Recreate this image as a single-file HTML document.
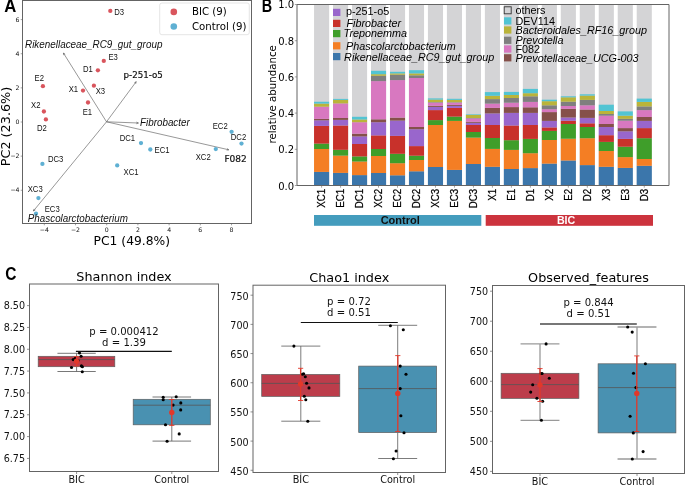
<!DOCTYPE html>
<html><head><meta charset="utf-8"><title>Figure</title>
<style>html,body{margin:0;padding:0;background:#fff}svg{display:block}text{white-space:pre}</style>
</head><body>
<svg width="685" height="485" viewBox="0 0 685 485">
<rect width="685" height="485" fill="#fff"/>
<rect x="22.50" y="0.50" width="229.00" height="223.00" fill="none" stroke="#646464" stroke-width="1.0" />
<text transform="translate(4.2,11.5) scale(1.077,1.2)" font-size="15.5" font-family="Liberation Sans, DejaVu Sans, sans-serif" font-weight="bold" fill="#000">A</text>
<line x1="44.30" y1="223.50" x2="44.30" y2="225.30" stroke="#646464" stroke-width="0.6" />
<text x="44.30" y="231.50" font-size="6.2" font-family="DejaVu Sans, Liberation Sans, sans-serif" text-anchor="middle" fill="#111" >−4</text>
<line x1="75.50" y1="223.50" x2="75.50" y2="225.30" stroke="#646464" stroke-width="0.6" />
<text x="75.50" y="231.50" font-size="6.2" font-family="DejaVu Sans, Liberation Sans, sans-serif" text-anchor="middle" fill="#111" >−2</text>
<line x1="106.70" y1="223.50" x2="106.70" y2="225.30" stroke="#646464" stroke-width="0.6" />
<text x="106.70" y="231.50" font-size="6.2" font-family="DejaVu Sans, Liberation Sans, sans-serif" text-anchor="middle" fill="#111" >0</text>
<line x1="137.90" y1="223.50" x2="137.90" y2="225.30" stroke="#646464" stroke-width="0.6" />
<text x="137.90" y="231.50" font-size="6.2" font-family="DejaVu Sans, Liberation Sans, sans-serif" text-anchor="middle" fill="#111" >2</text>
<line x1="169.10" y1="223.50" x2="169.10" y2="225.30" stroke="#646464" stroke-width="0.6" />
<text x="169.10" y="231.50" font-size="6.2" font-family="DejaVu Sans, Liberation Sans, sans-serif" text-anchor="middle" fill="#111" >4</text>
<line x1="200.30" y1="223.50" x2="200.30" y2="225.30" stroke="#646464" stroke-width="0.6" />
<text x="200.30" y="231.50" font-size="6.2" font-family="DejaVu Sans, Liberation Sans, sans-serif" text-anchor="middle" fill="#111" >6</text>
<line x1="231.50" y1="223.50" x2="231.50" y2="225.30" stroke="#646464" stroke-width="0.6" />
<text x="231.50" y="231.50" font-size="6.2" font-family="DejaVu Sans, Liberation Sans, sans-serif" text-anchor="middle" fill="#111" >8</text>
<line x1="20.70" y1="19.58" x2="22.50" y2="19.58" stroke="#646464" stroke-width="0.6" />
<text x="19.50" y="21.78" font-size="6.2" font-family="DejaVu Sans, Liberation Sans, sans-serif" text-anchor="end" fill="#111" >6</text>
<line x1="20.70" y1="53.72" x2="22.50" y2="53.72" stroke="#646464" stroke-width="0.6" />
<text x="19.50" y="55.92" font-size="6.2" font-family="DejaVu Sans, Liberation Sans, sans-serif" text-anchor="end" fill="#111" >4</text>
<line x1="20.70" y1="87.86" x2="22.50" y2="87.86" stroke="#646464" stroke-width="0.6" />
<text x="19.50" y="90.06" font-size="6.2" font-family="DejaVu Sans, Liberation Sans, sans-serif" text-anchor="end" fill="#111" >2</text>
<line x1="20.70" y1="122.00" x2="22.50" y2="122.00" stroke="#646464" stroke-width="0.6" />
<text x="19.50" y="124.20" font-size="6.2" font-family="DejaVu Sans, Liberation Sans, sans-serif" text-anchor="end" fill="#111" >0</text>
<line x1="20.70" y1="156.14" x2="22.50" y2="156.14" stroke="#646464" stroke-width="0.6" />
<text x="19.50" y="158.34" font-size="6.2" font-family="DejaVu Sans, Liberation Sans, sans-serif" text-anchor="end" fill="#111" >−2</text>
<line x1="20.70" y1="190.28" x2="22.50" y2="190.28" stroke="#646464" stroke-width="0.6" />
<text x="19.50" y="192.48" font-size="6.2" font-family="DejaVu Sans, Liberation Sans, sans-serif" text-anchor="end" fill="#111" >−4</text>
<text x="131.80" y="244.50" font-size="12.3" font-family="DejaVu Sans, Liberation Sans, sans-serif" text-anchor="middle" fill="#000" >PC1 (49.8%)</text>
<text transform="translate(10.0,126.5) rotate(-90)" font-size="12.8" font-family="DejaVu Sans, Liberation Sans, sans-serif" text-anchor="middle" fill="#000">PC2 (23.6%)</text>
<line x1="106.50" y1="121.80" x2="63.40" y2="53.00" stroke="#606060" stroke-width="0.65" />
<path d="M65.20,54.26 L63.40,53.00 L63.75,55.17" fill="none" stroke="#606060" stroke-width="0.65"/>
<line x1="106.50" y1="121.80" x2="136.20" y2="81.70" stroke="#606060" stroke-width="0.65" />
<path d="M135.68,83.84 L136.20,81.70 L134.31,82.82" fill="none" stroke="#606060" stroke-width="0.65"/>
<line x1="106.50" y1="121.80" x2="138.40" y2="123.00" stroke="#606060" stroke-width="0.65" />
<path d="M136.34,123.78 L138.40,123.00 L136.41,122.07" fill="none" stroke="#606060" stroke-width="0.65"/>
<line x1="106.50" y1="121.80" x2="228.80" y2="149.80" stroke="#606060" stroke-width="0.65" />
<path d="M226.63,150.18 L228.80,149.80 L227.02,148.51" fill="none" stroke="#606060" stroke-width="0.65"/>
<line x1="106.50" y1="121.80" x2="33.40" y2="211.00" stroke="#606060" stroke-width="0.65" />
<path d="M34.02,208.89 L33.40,211.00 L35.35,209.98" fill="none" stroke="#606060" stroke-width="0.65"/>
<circle cx="110.30" cy="10.90" r="2.15" fill="#d9555d"/>
<circle cx="103.80" cy="60.90" r="2.15" fill="#d9555d"/>
<circle cx="97.90" cy="70.30" r="2.15" fill="#d9555d"/>
<circle cx="93.90" cy="85.70" r="2.15" fill="#d9555d"/>
<circle cx="83.00" cy="90.60" r="2.15" fill="#d9555d"/>
<circle cx="88.00" cy="102.50" r="2.15" fill="#d9555d"/>
<circle cx="42.90" cy="86.20" r="2.15" fill="#d9555d"/>
<circle cx="43.90" cy="111.50" r="2.15" fill="#d9555d"/>
<circle cx="45.90" cy="119.40" r="2.15" fill="#d9555d"/>
<circle cx="42.40" cy="163.90" r="2.15" fill="#5fb0d3"/>
<circle cx="38.40" cy="198.10" r="2.15" fill="#5fb0d3"/>
<circle cx="36.00" cy="213.70" r="2.15" fill="#5fb0d3"/>
<circle cx="117.20" cy="165.40" r="2.15" fill="#5fb0d3"/>
<circle cx="141.00" cy="143.10" r="2.15" fill="#5fb0d3"/>
<circle cx="150.30" cy="149.50" r="2.15" fill="#5fb0d3"/>
<circle cx="215.80" cy="149.10" r="2.15" fill="#5fb0d3"/>
<circle cx="231.60" cy="131.80" r="2.15" fill="#5fb0d3"/>
<circle cx="241.50" cy="143.60" r="2.15" fill="#5fb0d3"/>
<text transform="translate(114.30,15.40) scale(1,1.18)" font-size="7.7" font-family="Liberation Sans, DejaVu Sans, sans-serif" fill="#111">D3</text>
<text transform="translate(108.40,59.80) scale(1,1.18)" font-size="7.7" font-family="Liberation Sans, DejaVu Sans, sans-serif" fill="#111">E3</text>
<text transform="translate(82.90,72.20) scale(1,1.18)" font-size="7.7" font-family="Liberation Sans, DejaVu Sans, sans-serif" fill="#111">D1</text>
<text transform="translate(95.70,94.10) scale(1,1.18)" font-size="7.7" font-family="Liberation Sans, DejaVu Sans, sans-serif" fill="#111">X3</text>
<text transform="translate(68.70,91.80) scale(1,1.18)" font-size="7.7" font-family="Liberation Sans, DejaVu Sans, sans-serif" fill="#111">X1</text>
<text transform="translate(82.70,114.70) scale(1,1.18)" font-size="7.7" font-family="Liberation Sans, DejaVu Sans, sans-serif" fill="#111">E1</text>
<text transform="translate(34.60,81.00) scale(1,1.18)" font-size="7.7" font-family="Liberation Sans, DejaVu Sans, sans-serif" fill="#111">E2</text>
<text transform="translate(31.00,108.00) scale(1,1.18)" font-size="7.7" font-family="Liberation Sans, DejaVu Sans, sans-serif" fill="#111">X2</text>
<text transform="translate(36.90,130.90) scale(1,1.18)" font-size="7.7" font-family="Liberation Sans, DejaVu Sans, sans-serif" fill="#111">D2</text>
<text transform="translate(47.90,162.30) scale(1,1.18)" font-size="7.7" font-family="Liberation Sans, DejaVu Sans, sans-serif" fill="#111">DC3</text>
<text transform="translate(27.70,192.20) scale(1,1.18)" font-size="7.7" font-family="Liberation Sans, DejaVu Sans, sans-serif" fill="#111">XC3</text>
<text transform="translate(44.70,212.40) scale(1,1.18)" font-size="7.7" font-family="Liberation Sans, DejaVu Sans, sans-serif" fill="#111">EC3</text>
<text transform="translate(123.60,174.70) scale(1,1.18)" font-size="7.7" font-family="Liberation Sans, DejaVu Sans, sans-serif" fill="#111">XC1</text>
<text transform="translate(119.70,141.10) scale(1,1.18)" font-size="7.7" font-family="Liberation Sans, DejaVu Sans, sans-serif" fill="#111">DC1</text>
<text transform="translate(154.50,153.00) scale(1,1.18)" font-size="7.7" font-family="Liberation Sans, DejaVu Sans, sans-serif" fill="#111">EC1</text>
<text transform="translate(195.70,160.00) scale(1,1.18)" font-size="7.7" font-family="Liberation Sans, DejaVu Sans, sans-serif" fill="#111">XC2</text>
<text transform="translate(212.70,128.80) scale(1,1.18)" font-size="7.7" font-family="Liberation Sans, DejaVu Sans, sans-serif" fill="#111">EC2</text>
<text transform="translate(230.80,140.30) scale(1,1.18)" font-size="7.7" font-family="Liberation Sans, DejaVu Sans, sans-serif" fill="#111">DC2</text>
<text transform="translate(25.0,47.6) scale(1,1.1)" font-size="9.9" font-family="Liberation Sans, DejaVu Sans, sans-serif" font-style="italic" fill="#111">Rikenellaceae_RC9_gut_group</text>
<text x="123.50" y="78.00" font-size="8.7" font-family="DejaVu Sans, Liberation Sans, sans-serif" text-anchor="start" fill="#111" stroke="#111" stroke-width="0.2">p-251-o5</text>
<text transform="translate(140.0,125.7) scale(1,1.1)" font-size="9.85" font-family="Liberation Sans, DejaVu Sans, sans-serif" font-style="italic" fill="#111">Fibrobacter</text>
<text x="224.40" y="161.70" font-size="9.05" font-family="DejaVu Sans, Liberation Sans, sans-serif" text-anchor="start" fill="#111" stroke="#111" stroke-width="0.2">F082</text>
<text transform="translate(27.8,222.0) scale(1,1.1)" font-size="9.85" font-family="Liberation Sans, DejaVu Sans, sans-serif" font-style="italic" fill="#111">Phascolarctobacterium</text>
<rect x="159.70" y="3.00" width="89.60" height="31.70" fill="#fff" stroke="#dadada" stroke-width="0.7" rx="2.2"/>
<circle cx="173.80" cy="11.90" r="3.3" fill="#d9555d"/>
<circle cx="173.80" cy="26.50" r="3.3" fill="#5fb0d3"/>
<text x="191.90" y="15.20" font-size="10.2" font-family="DejaVu Sans, Liberation Sans, sans-serif" text-anchor="start" fill="#000" >BIC (9)</text>
<text x="191.90" y="29.80" font-size="10.2" font-family="DejaVu Sans, Liberation Sans, sans-serif" text-anchor="start" fill="#000" >Control (9)</text>
<text transform="translate(261.7,12.2) scale(0.93,1.14)" font-size="15.5" font-family="Liberation Sans, DejaVu Sans, sans-serif" font-weight="bold" fill="#000">B</text>
<rect x="314.05" y="4.50" width="15.10" height="181.00" fill="#d4d4d6" stroke="none" stroke-width="0.6" />
<rect x="314.05" y="171.90" width="15.10" height="13.60" fill="#3b76ab" stroke="none" stroke-width="0.6" />
<rect x="314.05" y="149.00" width="15.10" height="22.90" fill="#f47e24" stroke="none" stroke-width="0.6" />
<rect x="314.05" y="143.60" width="15.10" height="5.40" fill="#3f9e2a" stroke="none" stroke-width="0.6" />
<rect x="314.05" y="125.90" width="15.10" height="17.70" fill="#c8312b" stroke="none" stroke-width="0.6" />
<rect x="314.05" y="120.30" width="15.10" height="5.60" fill="#9966cc" stroke="none" stroke-width="0.6" />
<rect x="314.05" y="118.90" width="15.10" height="1.40" fill="#85504a" stroke="none" stroke-width="0.6" />
<rect x="314.05" y="106.70" width="15.10" height="12.20" fill="#d878c0" stroke="none" stroke-width="0.6" />
<rect x="314.05" y="103.60" width="15.10" height="3.10" fill="#bab43a" stroke="none" stroke-width="0.6" />
<rect x="314.05" y="101.75" width="15.10" height="1.85" fill="#52c4d3" stroke="none" stroke-width="0.6" />
<text transform="translate(324.90,188.90) rotate(-90) scale(0.88,1)" font-size="11" font-family="Liberation Sans, DejaVu Sans, sans-serif" text-anchor="end" fill="#000" stroke="#000" stroke-width="0.25">XC1</text>
<line x1="321.60" y1="185.50" x2="321.60" y2="187.70" stroke="#646464" stroke-width="0.6" />
<rect x="333.03" y="4.50" width="15.10" height="181.00" fill="#d4d4d6" stroke="none" stroke-width="0.6" />
<rect x="333.03" y="172.90" width="15.10" height="12.60" fill="#3b76ab" stroke="none" stroke-width="0.6" />
<rect x="333.03" y="155.60" width="15.10" height="17.30" fill="#f47e24" stroke="none" stroke-width="0.6" />
<rect x="333.03" y="149.80" width="15.10" height="5.80" fill="#3f9e2a" stroke="none" stroke-width="0.6" />
<rect x="333.03" y="125.50" width="15.10" height="24.30" fill="#c8312b" stroke="none" stroke-width="0.6" />
<rect x="333.03" y="119.90" width="15.10" height="5.60" fill="#9966cc" stroke="none" stroke-width="0.6" />
<rect x="333.03" y="118.00" width="15.10" height="1.90" fill="#85504a" stroke="none" stroke-width="0.6" />
<rect x="333.03" y="103.40" width="15.10" height="14.60" fill="#d878c0" stroke="none" stroke-width="0.6" />
<rect x="333.03" y="99.90" width="15.10" height="3.50" fill="#bab43a" stroke="none" stroke-width="0.6" />
<rect x="333.03" y="98.90" width="15.10" height="1.00" fill="#52c4d3" stroke="none" stroke-width="0.6" />
<text transform="translate(343.88,188.90) rotate(-90) scale(0.88,1)" font-size="11" font-family="Liberation Sans, DejaVu Sans, sans-serif" text-anchor="end" fill="#000" stroke="#000" stroke-width="0.25">EC1</text>
<line x1="340.58" y1="185.50" x2="340.58" y2="187.70" stroke="#646464" stroke-width="0.6" />
<rect x="352.01" y="4.50" width="15.10" height="181.00" fill="#d4d4d6" stroke="none" stroke-width="0.6" />
<rect x="352.01" y="175.10" width="15.10" height="10.40" fill="#3b76ab" stroke="none" stroke-width="0.6" />
<rect x="352.01" y="161.50" width="15.10" height="13.60" fill="#f47e24" stroke="none" stroke-width="0.6" />
<rect x="352.01" y="156.40" width="15.10" height="5.10" fill="#3f9e2a" stroke="none" stroke-width="0.6" />
<rect x="352.01" y="144.00" width="15.10" height="12.40" fill="#c8312b" stroke="none" stroke-width="0.6" />
<rect x="352.01" y="136.40" width="15.10" height="7.60" fill="#9966cc" stroke="none" stroke-width="0.6" />
<rect x="352.01" y="133.70" width="15.10" height="2.70" fill="#85504a" stroke="none" stroke-width="0.6" />
<rect x="352.01" y="122.20" width="15.10" height="11.50" fill="#d878c0" stroke="none" stroke-width="0.6" />
<rect x="352.01" y="119.50" width="15.10" height="2.70" fill="#bab43a" stroke="none" stroke-width="0.6" />
<rect x="352.01" y="116.80" width="15.10" height="2.70" fill="#52c4d3" stroke="none" stroke-width="0.6" />
<text transform="translate(362.86,188.90) rotate(-90) scale(0.88,1)" font-size="11" font-family="Liberation Sans, DejaVu Sans, sans-serif" text-anchor="end" fill="#000" stroke="#000" stroke-width="0.25">DC1</text>
<line x1="359.56" y1="185.50" x2="359.56" y2="187.70" stroke="#646464" stroke-width="0.6" />
<rect x="370.99" y="4.50" width="15.10" height="181.00" fill="#d4d4d6" stroke="none" stroke-width="0.6" />
<rect x="370.99" y="173.00" width="15.10" height="12.50" fill="#3b76ab" stroke="none" stroke-width="0.6" />
<rect x="370.99" y="156.00" width="15.10" height="17.00" fill="#f47e24" stroke="none" stroke-width="0.6" />
<rect x="370.99" y="149.00" width="15.10" height="7.00" fill="#3f9e2a" stroke="none" stroke-width="0.6" />
<rect x="370.99" y="135.40" width="15.10" height="13.60" fill="#c8312b" stroke="none" stroke-width="0.6" />
<rect x="370.99" y="122.20" width="15.10" height="13.20" fill="#9966cc" stroke="none" stroke-width="0.6" />
<rect x="370.99" y="119.30" width="15.10" height="2.90" fill="#85504a" stroke="none" stroke-width="0.6" />
<rect x="370.99" y="81.10" width="15.10" height="38.20" fill="#d878c0" stroke="none" stroke-width="0.6" />
<rect x="370.99" y="75.80" width="15.10" height="5.30" fill="#7f7f7f" stroke="none" stroke-width="0.6" />
<rect x="370.99" y="74.20" width="15.10" height="1.60" fill="#bab43a" stroke="none" stroke-width="0.6" />
<rect x="370.99" y="70.80" width="15.10" height="3.40" fill="#52c4d3" stroke="none" stroke-width="0.6" />
<text transform="translate(381.84,188.90) rotate(-90) scale(0.88,1)" font-size="11" font-family="Liberation Sans, DejaVu Sans, sans-serif" text-anchor="end" fill="#000" stroke="#000" stroke-width="0.25">XC2</text>
<line x1="378.54" y1="185.50" x2="378.54" y2="187.70" stroke="#646464" stroke-width="0.6" />
<rect x="389.97" y="4.50" width="15.10" height="181.00" fill="#d4d4d6" stroke="none" stroke-width="0.6" />
<rect x="389.97" y="175.30" width="15.10" height="10.20" fill="#3b76ab" stroke="none" stroke-width="0.6" />
<rect x="389.97" y="163.20" width="15.10" height="12.10" fill="#f47e24" stroke="none" stroke-width="0.6" />
<rect x="389.97" y="153.80" width="15.10" height="9.40" fill="#3f9e2a" stroke="none" stroke-width="0.6" />
<rect x="389.97" y="135.90" width="15.10" height="17.90" fill="#c8312b" stroke="none" stroke-width="0.6" />
<rect x="389.97" y="120.60" width="15.10" height="15.30" fill="#9966cc" stroke="none" stroke-width="0.6" />
<rect x="389.97" y="117.60" width="15.10" height="3.00" fill="#85504a" stroke="none" stroke-width="0.6" />
<rect x="389.97" y="80.10" width="15.10" height="37.50" fill="#d878c0" stroke="none" stroke-width="0.6" />
<rect x="389.97" y="74.70" width="15.10" height="5.40" fill="#7f7f7f" stroke="none" stroke-width="0.6" />
<rect x="389.97" y="73.40" width="15.10" height="1.30" fill="#bab43a" stroke="none" stroke-width="0.6" />
<rect x="389.97" y="71.80" width="15.10" height="1.60" fill="#52c4d3" stroke="none" stroke-width="0.6" />
<text transform="translate(400.82,188.90) rotate(-90) scale(0.88,1)" font-size="11" font-family="Liberation Sans, DejaVu Sans, sans-serif" text-anchor="end" fill="#000" stroke="#000" stroke-width="0.25">EC2</text>
<line x1="397.52" y1="185.50" x2="397.52" y2="187.70" stroke="#646464" stroke-width="0.6" />
<rect x="408.95" y="4.50" width="15.10" height="181.00" fill="#d4d4d6" stroke="none" stroke-width="0.6" />
<rect x="408.95" y="171.30" width="15.10" height="14.20" fill="#3b76ab" stroke="none" stroke-width="0.6" />
<rect x="408.95" y="160.00" width="15.10" height="11.30" fill="#f47e24" stroke="none" stroke-width="0.6" />
<rect x="408.95" y="155.70" width="15.10" height="4.30" fill="#3f9e2a" stroke="none" stroke-width="0.6" />
<rect x="408.95" y="146.10" width="15.10" height="9.60" fill="#c8312b" stroke="none" stroke-width="0.6" />
<rect x="408.95" y="129.20" width="15.10" height="16.90" fill="#9966cc" stroke="none" stroke-width="0.6" />
<rect x="408.95" y="127.00" width="15.10" height="2.20" fill="#85504a" stroke="none" stroke-width="0.6" />
<rect x="408.95" y="78.00" width="15.10" height="49.00" fill="#d878c0" stroke="none" stroke-width="0.6" />
<rect x="408.95" y="75.30" width="15.10" height="2.70" fill="#7f7f7f" stroke="none" stroke-width="0.6" />
<rect x="408.95" y="73.40" width="15.10" height="1.90" fill="#bab43a" stroke="none" stroke-width="0.6" />
<rect x="408.95" y="70.20" width="15.10" height="3.20" fill="#52c4d3" stroke="none" stroke-width="0.6" />
<text transform="translate(419.80,188.90) rotate(-90) scale(0.88,1)" font-size="11" font-family="Liberation Sans, DejaVu Sans, sans-serif" text-anchor="end" fill="#000" stroke="#000" stroke-width="0.25">DC2</text>
<line x1="416.50" y1="185.50" x2="416.50" y2="187.70" stroke="#646464" stroke-width="0.6" />
<rect x="427.93" y="4.50" width="15.10" height="181.00" fill="#d4d4d6" stroke="none" stroke-width="0.6" />
<rect x="427.93" y="167.00" width="15.10" height="18.50" fill="#3b76ab" stroke="none" stroke-width="0.6" />
<rect x="427.93" y="125.00" width="15.10" height="42.00" fill="#f47e24" stroke="none" stroke-width="0.6" />
<rect x="427.93" y="120.10" width="15.10" height="4.90" fill="#3f9e2a" stroke="none" stroke-width="0.6" />
<rect x="427.93" y="110.10" width="15.10" height="10.00" fill="#c8312b" stroke="none" stroke-width="0.6" />
<rect x="427.93" y="106.90" width="15.10" height="3.20" fill="#9966cc" stroke="none" stroke-width="0.6" />
<rect x="427.93" y="105.80" width="15.10" height="1.10" fill="#85504a" stroke="none" stroke-width="0.6" />
<rect x="427.93" y="102.60" width="15.10" height="3.20" fill="#d878c0" stroke="none" stroke-width="0.6" />
<rect x="427.93" y="102.10" width="15.10" height="0.50" fill="#7f7f7f" stroke="none" stroke-width="0.6" />
<rect x="427.93" y="99.60" width="15.10" height="2.50" fill="#bab43a" stroke="none" stroke-width="0.6" />
<rect x="427.93" y="98.40" width="15.10" height="1.20" fill="#52c4d3" stroke="none" stroke-width="0.6" />
<text transform="translate(438.78,188.90) rotate(-90) scale(0.88,1)" font-size="11" font-family="Liberation Sans, DejaVu Sans, sans-serif" text-anchor="end" fill="#000" stroke="#000" stroke-width="0.25">XC3</text>
<line x1="435.48" y1="185.50" x2="435.48" y2="187.70" stroke="#646464" stroke-width="0.6" />
<rect x="446.91" y="4.50" width="15.10" height="181.00" fill="#d4d4d6" stroke="none" stroke-width="0.6" />
<rect x="446.91" y="169.90" width="15.10" height="15.60" fill="#3b76ab" stroke="none" stroke-width="0.6" />
<rect x="446.91" y="120.90" width="15.10" height="49.00" fill="#f47e24" stroke="none" stroke-width="0.6" />
<rect x="446.91" y="116.60" width="15.10" height="4.30" fill="#3f9e2a" stroke="none" stroke-width="0.6" />
<rect x="446.91" y="107.90" width="15.10" height="8.70" fill="#c8312b" stroke="none" stroke-width="0.6" />
<rect x="446.91" y="105.90" width="15.10" height="2.00" fill="#9966cc" stroke="none" stroke-width="0.6" />
<rect x="446.91" y="104.90" width="15.10" height="1.00" fill="#85504a" stroke="none" stroke-width="0.6" />
<rect x="446.91" y="102.60" width="15.10" height="2.30" fill="#d878c0" stroke="none" stroke-width="0.6" />
<rect x="446.91" y="102.20" width="15.10" height="0.40" fill="#7f7f7f" stroke="none" stroke-width="0.6" />
<rect x="446.91" y="99.90" width="15.10" height="2.30" fill="#bab43a" stroke="none" stroke-width="0.6" />
<rect x="446.91" y="98.80" width="15.10" height="1.10" fill="#52c4d3" stroke="none" stroke-width="0.6" />
<text transform="translate(457.76,188.90) rotate(-90) scale(0.88,1)" font-size="11" font-family="Liberation Sans, DejaVu Sans, sans-serif" text-anchor="end" fill="#000" stroke="#000" stroke-width="0.25">EC3</text>
<line x1="454.46" y1="185.50" x2="454.46" y2="187.70" stroke="#646464" stroke-width="0.6" />
<rect x="465.89" y="4.50" width="15.10" height="181.00" fill="#d4d4d6" stroke="none" stroke-width="0.6" />
<rect x="465.89" y="164.00" width="15.10" height="21.50" fill="#3b76ab" stroke="none" stroke-width="0.6" />
<rect x="465.89" y="137.60" width="15.10" height="26.40" fill="#f47e24" stroke="none" stroke-width="0.6" />
<rect x="465.89" y="132.00" width="15.10" height="5.60" fill="#3f9e2a" stroke="none" stroke-width="0.6" />
<rect x="465.89" y="125.00" width="15.10" height="7.00" fill="#c8312b" stroke="none" stroke-width="0.6" />
<rect x="465.89" y="122.80" width="15.10" height="2.20" fill="#9966cc" stroke="none" stroke-width="0.6" />
<rect x="465.89" y="121.80" width="15.10" height="1.00" fill="#85504a" stroke="none" stroke-width="0.6" />
<rect x="465.89" y="118.40" width="15.10" height="3.40" fill="#d878c0" stroke="none" stroke-width="0.6" />
<rect x="465.89" y="118.00" width="15.10" height="0.40" fill="#7f7f7f" stroke="none" stroke-width="0.6" />
<rect x="465.89" y="114.90" width="15.10" height="3.10" fill="#bab43a" stroke="none" stroke-width="0.6" />
<rect x="465.89" y="114.30" width="15.10" height="0.60" fill="#52c4d3" stroke="none" stroke-width="0.6" />
<text transform="translate(476.74,188.90) rotate(-90) scale(0.88,1)" font-size="11" font-family="Liberation Sans, DejaVu Sans, sans-serif" text-anchor="end" fill="#000" stroke="#000" stroke-width="0.25">DC3</text>
<line x1="473.44" y1="185.50" x2="473.44" y2="187.70" stroke="#646464" stroke-width="0.6" />
<rect x="484.87" y="4.50" width="15.10" height="181.00" fill="#d4d4d6" stroke="none" stroke-width="0.6" />
<rect x="484.87" y="166.80" width="15.10" height="18.70" fill="#3b76ab" stroke="none" stroke-width="0.6" />
<rect x="484.87" y="148.90" width="15.10" height="17.90" fill="#f47e24" stroke="none" stroke-width="0.6" />
<rect x="484.87" y="138.00" width="15.10" height="10.90" fill="#3f9e2a" stroke="none" stroke-width="0.6" />
<rect x="484.87" y="125.00" width="15.10" height="13.00" fill="#c8312b" stroke="none" stroke-width="0.6" />
<rect x="484.87" y="113.40" width="15.10" height="11.60" fill="#9966cc" stroke="none" stroke-width="0.6" />
<rect x="484.87" y="107.90" width="15.10" height="5.50" fill="#85504a" stroke="none" stroke-width="0.6" />
<rect x="484.87" y="103.60" width="15.10" height="4.30" fill="#d878c0" stroke="none" stroke-width="0.6" />
<rect x="484.87" y="99.10" width="15.10" height="4.50" fill="#7f7f7f" stroke="none" stroke-width="0.6" />
<rect x="484.87" y="95.80" width="15.10" height="3.30" fill="#bab43a" stroke="none" stroke-width="0.6" />
<rect x="484.87" y="92.10" width="15.10" height="3.70" fill="#52c4d3" stroke="none" stroke-width="0.6" />
<text transform="translate(495.72,188.90) rotate(-90) scale(0.88,1)" font-size="11" font-family="Liberation Sans, DejaVu Sans, sans-serif" text-anchor="end" fill="#000" stroke="#000" stroke-width="0.25">X1</text>
<line x1="492.42" y1="185.50" x2="492.42" y2="187.70" stroke="#646464" stroke-width="0.6" />
<rect x="503.85" y="4.50" width="15.10" height="181.00" fill="#d4d4d6" stroke="none" stroke-width="0.6" />
<rect x="503.85" y="169.00" width="15.10" height="16.50" fill="#3b76ab" stroke="none" stroke-width="0.6" />
<rect x="503.85" y="149.90" width="15.10" height="19.10" fill="#f47e24" stroke="none" stroke-width="0.6" />
<rect x="503.85" y="140.20" width="15.10" height="9.70" fill="#3f9e2a" stroke="none" stroke-width="0.6" />
<rect x="503.85" y="125.50" width="15.10" height="14.70" fill="#c8312b" stroke="none" stroke-width="0.6" />
<rect x="503.85" y="112.90" width="15.10" height="12.60" fill="#9966cc" stroke="none" stroke-width="0.6" />
<rect x="503.85" y="107.10" width="15.10" height="5.80" fill="#85504a" stroke="none" stroke-width="0.6" />
<rect x="503.85" y="102.70" width="15.10" height="4.40" fill="#d878c0" stroke="none" stroke-width="0.6" />
<rect x="503.85" y="98.00" width="15.10" height="4.70" fill="#7f7f7f" stroke="none" stroke-width="0.6" />
<rect x="503.85" y="95.00" width="15.10" height="3.00" fill="#bab43a" stroke="none" stroke-width="0.6" />
<rect x="503.85" y="91.90" width="15.10" height="3.10" fill="#52c4d3" stroke="none" stroke-width="0.6" />
<text transform="translate(514.70,188.90) rotate(-90) scale(0.88,1)" font-size="11" font-family="Liberation Sans, DejaVu Sans, sans-serif" text-anchor="end" fill="#000" stroke="#000" stroke-width="0.25">E1</text>
<line x1="511.40" y1="185.50" x2="511.40" y2="187.70" stroke="#646464" stroke-width="0.6" />
<rect x="522.83" y="4.50" width="15.10" height="181.00" fill="#d4d4d6" stroke="none" stroke-width="0.6" />
<rect x="522.83" y="168.10" width="15.10" height="17.40" fill="#3b76ab" stroke="none" stroke-width="0.6" />
<rect x="522.83" y="153.20" width="15.10" height="14.90" fill="#f47e24" stroke="none" stroke-width="0.6" />
<rect x="522.83" y="138.90" width="15.10" height="14.30" fill="#3f9e2a" stroke="none" stroke-width="0.6" />
<rect x="522.83" y="125.00" width="15.10" height="13.90" fill="#c8312b" stroke="none" stroke-width="0.6" />
<rect x="522.83" y="112.90" width="15.10" height="12.10" fill="#9966cc" stroke="none" stroke-width="0.6" />
<rect x="522.83" y="107.30" width="15.10" height="5.60" fill="#85504a" stroke="none" stroke-width="0.6" />
<rect x="522.83" y="101.90" width="15.10" height="5.40" fill="#d878c0" stroke="none" stroke-width="0.6" />
<rect x="522.83" y="96.30" width="15.10" height="5.60" fill="#7f7f7f" stroke="none" stroke-width="0.6" />
<rect x="522.83" y="93.20" width="15.10" height="3.10" fill="#bab43a" stroke="none" stroke-width="0.6" />
<rect x="522.83" y="88.90" width="15.10" height="4.30" fill="#52c4d3" stroke="none" stroke-width="0.6" />
<text transform="translate(533.68,188.90) rotate(-90) scale(0.88,1)" font-size="11" font-family="Liberation Sans, DejaVu Sans, sans-serif" text-anchor="end" fill="#000" stroke="#000" stroke-width="0.25">D1</text>
<line x1="530.38" y1="185.50" x2="530.38" y2="187.70" stroke="#646464" stroke-width="0.6" />
<rect x="541.81" y="4.50" width="15.10" height="181.00" fill="#d4d4d6" stroke="none" stroke-width="0.6" />
<rect x="541.81" y="163.60" width="15.10" height="21.90" fill="#3b76ab" stroke="none" stroke-width="0.6" />
<rect x="541.81" y="140.00" width="15.10" height="23.60" fill="#f47e24" stroke="none" stroke-width="0.6" />
<rect x="541.81" y="130.90" width="15.10" height="9.10" fill="#3f9e2a" stroke="none" stroke-width="0.6" />
<rect x="541.81" y="127.40" width="15.10" height="3.50" fill="#c8312b" stroke="none" stroke-width="0.6" />
<rect x="541.81" y="120.90" width="15.10" height="6.50" fill="#9966cc" stroke="none" stroke-width="0.6" />
<rect x="541.81" y="112.10" width="15.10" height="8.80" fill="#85504a" stroke="none" stroke-width="0.6" />
<rect x="541.81" y="109.20" width="15.10" height="2.90" fill="#d878c0" stroke="none" stroke-width="0.6" />
<rect x="541.81" y="105.30" width="15.10" height="3.90" fill="#7f7f7f" stroke="none" stroke-width="0.6" />
<rect x="541.81" y="101.20" width="15.10" height="4.10" fill="#bab43a" stroke="none" stroke-width="0.6" />
<rect x="541.81" y="99.70" width="15.10" height="1.50" fill="#52c4d3" stroke="none" stroke-width="0.6" />
<text transform="translate(552.66,188.90) rotate(-90) scale(0.88,1)" font-size="11" font-family="Liberation Sans, DejaVu Sans, sans-serif" text-anchor="end" fill="#000" stroke="#000" stroke-width="0.25">X2</text>
<line x1="549.36" y1="185.50" x2="549.36" y2="187.70" stroke="#646464" stroke-width="0.6" />
<rect x="560.79" y="4.50" width="15.10" height="181.00" fill="#d4d4d6" stroke="none" stroke-width="0.6" />
<rect x="560.79" y="160.50" width="15.10" height="25.00" fill="#3b76ab" stroke="none" stroke-width="0.6" />
<rect x="560.79" y="138.70" width="15.10" height="21.80" fill="#f47e24" stroke="none" stroke-width="0.6" />
<rect x="560.79" y="124.00" width="15.10" height="14.70" fill="#3f9e2a" stroke="none" stroke-width="0.6" />
<rect x="560.79" y="120.70" width="15.10" height="3.30" fill="#c8312b" stroke="none" stroke-width="0.6" />
<rect x="560.79" y="117.50" width="15.10" height="3.20" fill="#9966cc" stroke="none" stroke-width="0.6" />
<rect x="560.79" y="108.80" width="15.10" height="8.70" fill="#85504a" stroke="none" stroke-width="0.6" />
<rect x="560.79" y="106.00" width="15.10" height="2.80" fill="#d878c0" stroke="none" stroke-width="0.6" />
<rect x="560.79" y="101.70" width="15.10" height="4.30" fill="#7f7f7f" stroke="none" stroke-width="0.6" />
<rect x="560.79" y="97.30" width="15.10" height="4.40" fill="#bab43a" stroke="none" stroke-width="0.6" />
<rect x="560.79" y="96.30" width="15.10" height="1.00" fill="#52c4d3" stroke="none" stroke-width="0.6" />
<text transform="translate(571.64,188.90) rotate(-90) scale(0.88,1)" font-size="11" font-family="Liberation Sans, DejaVu Sans, sans-serif" text-anchor="end" fill="#000" stroke="#000" stroke-width="0.25">E2</text>
<line x1="568.34" y1="185.50" x2="568.34" y2="187.70" stroke="#646464" stroke-width="0.6" />
<rect x="579.77" y="4.50" width="15.10" height="181.00" fill="#d4d4d6" stroke="none" stroke-width="0.6" />
<rect x="579.77" y="165.10" width="15.10" height="20.40" fill="#3b76ab" stroke="none" stroke-width="0.6" />
<rect x="579.77" y="138.20" width="15.10" height="26.90" fill="#f47e24" stroke="none" stroke-width="0.6" />
<rect x="579.77" y="127.00" width="15.10" height="11.20" fill="#3f9e2a" stroke="none" stroke-width="0.6" />
<rect x="579.77" y="123.30" width="15.10" height="3.70" fill="#c8312b" stroke="none" stroke-width="0.6" />
<rect x="579.77" y="117.90" width="15.10" height="5.40" fill="#9966cc" stroke="none" stroke-width="0.6" />
<rect x="579.77" y="109.50" width="15.10" height="8.40" fill="#85504a" stroke="none" stroke-width="0.6" />
<rect x="579.77" y="105.30" width="15.10" height="4.20" fill="#d878c0" stroke="none" stroke-width="0.6" />
<rect x="579.77" y="99.90" width="15.10" height="5.40" fill="#7f7f7f" stroke="none" stroke-width="0.6" />
<rect x="579.77" y="95.60" width="15.10" height="4.30" fill="#bab43a" stroke="none" stroke-width="0.6" />
<rect x="579.77" y="94.30" width="15.10" height="1.30" fill="#52c4d3" stroke="none" stroke-width="0.6" />
<text transform="translate(590.62,188.90) rotate(-90) scale(0.88,1)" font-size="11" font-family="Liberation Sans, DejaVu Sans, sans-serif" text-anchor="end" fill="#000" stroke="#000" stroke-width="0.25">D2</text>
<line x1="587.32" y1="185.50" x2="587.32" y2="187.70" stroke="#646464" stroke-width="0.6" />
<rect x="598.75" y="4.50" width="15.10" height="181.00" fill="#d4d4d6" stroke="none" stroke-width="0.6" />
<rect x="598.75" y="166.80" width="15.10" height="18.70" fill="#3b76ab" stroke="none" stroke-width="0.6" />
<rect x="598.75" y="151.00" width="15.10" height="15.80" fill="#f47e24" stroke="none" stroke-width="0.6" />
<rect x="598.75" y="141.90" width="15.10" height="9.10" fill="#3f9e2a" stroke="none" stroke-width="0.6" />
<rect x="598.75" y="135.20" width="15.10" height="6.70" fill="#c8312b" stroke="none" stroke-width="0.6" />
<rect x="598.75" y="127.00" width="15.10" height="8.20" fill="#9966cc" stroke="none" stroke-width="0.6" />
<rect x="598.75" y="124.00" width="15.10" height="3.00" fill="#85504a" stroke="none" stroke-width="0.6" />
<rect x="598.75" y="115.70" width="15.10" height="8.30" fill="#d878c0" stroke="none" stroke-width="0.6" />
<rect x="598.75" y="114.00" width="15.10" height="1.70" fill="#7f7f7f" stroke="none" stroke-width="0.6" />
<rect x="598.75" y="111.00" width="15.10" height="3.00" fill="#bab43a" stroke="none" stroke-width="0.6" />
<rect x="598.75" y="104.70" width="15.10" height="6.30" fill="#52c4d3" stroke="none" stroke-width="0.6" />
<text transform="translate(609.60,188.90) rotate(-90) scale(0.88,1)" font-size="11" font-family="Liberation Sans, DejaVu Sans, sans-serif" text-anchor="end" fill="#000" stroke="#000" stroke-width="0.25">X3</text>
<line x1="606.30" y1="185.50" x2="606.30" y2="187.70" stroke="#646464" stroke-width="0.6" />
<rect x="617.73" y="4.50" width="15.10" height="181.00" fill="#d4d4d6" stroke="none" stroke-width="0.6" />
<rect x="617.73" y="167.90" width="15.10" height="17.60" fill="#3b76ab" stroke="none" stroke-width="0.6" />
<rect x="617.73" y="157.10" width="15.10" height="10.80" fill="#f47e24" stroke="none" stroke-width="0.6" />
<rect x="617.73" y="146.70" width="15.10" height="10.40" fill="#3f9e2a" stroke="none" stroke-width="0.6" />
<rect x="617.73" y="138.90" width="15.10" height="7.80" fill="#c8312b" stroke="none" stroke-width="0.6" />
<rect x="617.73" y="131.30" width="15.10" height="7.60" fill="#9966cc" stroke="none" stroke-width="0.6" />
<rect x="617.73" y="128.10" width="15.10" height="3.20" fill="#85504a" stroke="none" stroke-width="0.6" />
<rect x="617.73" y="120.70" width="15.10" height="7.40" fill="#d878c0" stroke="none" stroke-width="0.6" />
<rect x="617.73" y="118.80" width="15.10" height="1.90" fill="#7f7f7f" stroke="none" stroke-width="0.6" />
<rect x="617.73" y="115.70" width="15.10" height="3.10" fill="#bab43a" stroke="none" stroke-width="0.6" />
<rect x="617.73" y="111.40" width="15.10" height="4.30" fill="#52c4d3" stroke="none" stroke-width="0.6" />
<text transform="translate(628.58,188.90) rotate(-90) scale(0.88,1)" font-size="11" font-family="Liberation Sans, DejaVu Sans, sans-serif" text-anchor="end" fill="#000" stroke="#000" stroke-width="0.25">E3</text>
<line x1="625.28" y1="185.50" x2="625.28" y2="187.70" stroke="#646464" stroke-width="0.6" />
<rect x="636.71" y="4.50" width="15.10" height="181.00" fill="#d4d4d6" stroke="none" stroke-width="0.6" />
<rect x="636.71" y="165.80" width="15.10" height="19.70" fill="#3b76ab" stroke="none" stroke-width="0.6" />
<rect x="636.71" y="159.00" width="15.10" height="6.80" fill="#f47e24" stroke="none" stroke-width="0.6" />
<rect x="636.71" y="138.20" width="15.10" height="20.80" fill="#3f9e2a" stroke="none" stroke-width="0.6" />
<rect x="636.71" y="128.10" width="15.10" height="10.10" fill="#c8312b" stroke="none" stroke-width="0.6" />
<rect x="636.71" y="120.90" width="15.10" height="7.20" fill="#9966cc" stroke="none" stroke-width="0.6" />
<rect x="636.71" y="117.00" width="15.10" height="3.90" fill="#85504a" stroke="none" stroke-width="0.6" />
<rect x="636.71" y="110.10" width="15.10" height="6.90" fill="#d878c0" stroke="none" stroke-width="0.6" />
<rect x="636.71" y="106.40" width="15.10" height="3.70" fill="#7f7f7f" stroke="none" stroke-width="0.6" />
<rect x="636.71" y="101.90" width="15.10" height="4.50" fill="#bab43a" stroke="none" stroke-width="0.6" />
<rect x="636.71" y="98.60" width="15.10" height="3.30" fill="#52c4d3" stroke="none" stroke-width="0.6" />
<text transform="translate(647.56,188.90) rotate(-90) scale(0.88,1)" font-size="11" font-family="Liberation Sans, DejaVu Sans, sans-serif" text-anchor="end" fill="#000" stroke="#000" stroke-width="0.25">D3</text>
<line x1="644.26" y1="185.50" x2="644.26" y2="187.70" stroke="#646464" stroke-width="0.6" />
<path d="M297.0,4.5 L669.0,4.5 L669.0,185.5 L297.0,185.5 Z" fill="none" stroke="#646464" stroke-width="1.0"/>
<line x1="294.80" y1="185.50" x2="297.00" y2="185.50" stroke="#646464" stroke-width="0.6" />
<text x="294.10" y="190.10" font-size="10.0" font-family="DejaVu Sans, Liberation Sans, sans-serif" text-anchor="end" fill="#000" >0.0</text>
<line x1="294.80" y1="149.30" x2="297.00" y2="149.30" stroke="#646464" stroke-width="0.6" />
<text x="294.10" y="153.20" font-size="10.0" font-family="DejaVu Sans, Liberation Sans, sans-serif" text-anchor="end" fill="#000" >0.2</text>
<line x1="294.80" y1="113.10" x2="297.00" y2="113.10" stroke="#646464" stroke-width="0.6" />
<text x="294.10" y="117.00" font-size="10.0" font-family="DejaVu Sans, Liberation Sans, sans-serif" text-anchor="end" fill="#000" >0.4</text>
<line x1="294.80" y1="76.90" x2="297.00" y2="76.90" stroke="#646464" stroke-width="0.6" />
<text x="294.10" y="80.80" font-size="10.0" font-family="DejaVu Sans, Liberation Sans, sans-serif" text-anchor="end" fill="#000" >0.6</text>
<line x1="294.80" y1="40.70" x2="297.00" y2="40.70" stroke="#646464" stroke-width="0.6" />
<text x="294.10" y="44.60" font-size="10.0" font-family="DejaVu Sans, Liberation Sans, sans-serif" text-anchor="end" fill="#000" >0.8</text>
<line x1="294.80" y1="4.50" x2="297.00" y2="4.50" stroke="#646464" stroke-width="0.6" />
<text x="294.10" y="8.40" font-size="10.0" font-family="DejaVu Sans, Liberation Sans, sans-serif" text-anchor="end" fill="#000" >1.0</text>
<text transform="translate(275.6,94.4) rotate(-90)" font-size="10.2" font-family="DejaVu Sans, Liberation Sans, sans-serif" text-anchor="middle" fill="#000">relative abundance</text>
<rect x="333.00" y="8.80" width="7.40" height="7.20" fill="#9966cc" stroke="none" stroke-width="0.6" />
<text x="346.00" y="15.10" font-size="10.8" font-family="Liberation Sans, DejaVu Sans, sans-serif" text-anchor="start" fill="#000" >p-251-o5</text>
<rect x="333.00" y="19.80" width="7.40" height="7.20" fill="#c8312b" stroke="none" stroke-width="0.6" />
<text x="346.40" y="27.20" font-size="10.8" font-family="Liberation Sans, DejaVu Sans, sans-serif" text-anchor="start" fill="#000" font-style="italic">Fibrobacter</text>
<rect x="333.00" y="30.00" width="7.40" height="7.20" fill="#3f9e2a" stroke="none" stroke-width="0.6" />
<text x="343.60" y="37.40" font-size="10.8" font-family="Liberation Sans, DejaVu Sans, sans-serif" text-anchor="start" fill="#000" font-style="italic">Treponemma</text>
<rect x="333.00" y="42.20" width="7.40" height="7.20" fill="#f47e24" stroke="none" stroke-width="0.6" />
<text x="346.00" y="49.70" font-size="10.8" font-family="Liberation Sans, DejaVu Sans, sans-serif" text-anchor="start" fill="#000" font-style="italic">Phascolarctobacterium</text>
<rect x="333.00" y="53.00" width="7.40" height="7.20" fill="#3b76ab" stroke="none" stroke-width="0.6" />
<text x="344.10" y="61.00" font-size="10.8" font-family="Liberation Sans, DejaVu Sans, sans-serif" text-anchor="start" fill="#000" font-style="italic">Rikenellaceae_RC9_gut_group</text>
<rect x="504.20" y="6.80" width="7.00" height="7.00" fill="#d4d4d6" stroke="#333" stroke-width="0.9" />
<text x="515.50" y="13.80" font-size="10.8" font-family="Liberation Sans, DejaVu Sans, sans-serif" text-anchor="start" fill="#000" >others</text>
<rect x="504.00" y="17.30" width="7.40" height="7.20" fill="#52c4d3" stroke="none" stroke-width="0.6" />
<text x="515.50" y="24.70" font-size="10.8" font-family="Liberation Sans, DejaVu Sans, sans-serif" text-anchor="start" fill="#000" >DEV114</text>
<rect x="504.00" y="26.40" width="7.40" height="7.20" fill="#bab43a" stroke="none" stroke-width="0.6" />
<text x="515.50" y="33.80" font-size="10.8" font-family="Liberation Sans, DejaVu Sans, sans-serif" text-anchor="start" fill="#000" font-style="italic">Bacteroidales_RF16_group</text>
<rect x="504.00" y="36.70" width="7.40" height="7.20" fill="#7f7f7f" stroke="none" stroke-width="0.6" />
<text x="515.50" y="44.10" font-size="10.8" font-family="Liberation Sans, DejaVu Sans, sans-serif" text-anchor="start" fill="#000" font-style="italic">Prevotella</text>
<rect x="504.00" y="45.40" width="7.40" height="7.20" fill="#d878c0" stroke="none" stroke-width="0.6" />
<text x="515.50" y="52.80" font-size="10.8" font-family="Liberation Sans, DejaVu Sans, sans-serif" text-anchor="start" fill="#000" >F082</text>
<rect x="504.00" y="54.20" width="7.40" height="7.20" fill="#85504a" stroke="none" stroke-width="0.6" />
<text x="515.50" y="61.60" font-size="10.8" font-family="Liberation Sans, DejaVu Sans, sans-serif" text-anchor="start" fill="#000" font-style="italic">Prevotellaceae_UCG-003</text>
<rect x="314.00" y="215.00" width="167.30" height="10.80" fill="#449cbd" stroke="none" stroke-width="0.6" />
<text x="400.20" y="224.20" font-size="11.0" font-family="Liberation Sans, DejaVu Sans, sans-serif" text-anchor="middle" fill="#111" font-weight="bold">Control</text>
<rect x="485.70" y="215.00" width="167.30" height="10.80" fill="#cc333d" stroke="none" stroke-width="0.6" />
<text x="566.10" y="224.20" font-size="10.7" font-family="Liberation Sans, DejaVu Sans, sans-serif" text-anchor="middle" fill="#fff" font-weight="bold">BIC</text>
<text transform="translate(5.3,279.8) scale(1,1.14)" font-size="15.5" font-family="Liberation Sans, DejaVu Sans, sans-serif" font-weight="bold" fill="#000">C</text>
<rect x="29.50" y="284.00" width="189.00" height="187.50" fill="none" stroke="#646464" stroke-width="1.0" />
<text x="124.00" y="280.60" font-size="12.8" font-family="DejaVu Sans, Liberation Sans, sans-serif" text-anchor="middle" fill="#000" >Shannon index</text>
<line x1="27.00" y1="305.60" x2="29.50" y2="305.60" stroke="#646464" stroke-width="0.7" />
<text x="25.10" y="309.30" font-size="9.6" font-family="DejaVu Sans, Liberation Sans, sans-serif" text-anchor="end" fill="#111" >8.50</text>
<line x1="27.00" y1="327.43" x2="29.50" y2="327.43" stroke="#646464" stroke-width="0.7" />
<text x="25.10" y="331.13" font-size="9.6" font-family="DejaVu Sans, Liberation Sans, sans-serif" text-anchor="end" fill="#111" >8.25</text>
<line x1="27.00" y1="349.26" x2="29.50" y2="349.26" stroke="#646464" stroke-width="0.7" />
<text x="25.10" y="352.96" font-size="9.6" font-family="DejaVu Sans, Liberation Sans, sans-serif" text-anchor="end" fill="#111" >8.00</text>
<line x1="27.00" y1="371.09" x2="29.50" y2="371.09" stroke="#646464" stroke-width="0.7" />
<text x="25.10" y="374.79" font-size="9.6" font-family="DejaVu Sans, Liberation Sans, sans-serif" text-anchor="end" fill="#111" >7.75</text>
<line x1="27.00" y1="392.92" x2="29.50" y2="392.92" stroke="#646464" stroke-width="0.7" />
<text x="25.10" y="396.62" font-size="9.6" font-family="DejaVu Sans, Liberation Sans, sans-serif" text-anchor="end" fill="#111" >7.50</text>
<line x1="27.00" y1="414.75" x2="29.50" y2="414.75" stroke="#646464" stroke-width="0.7" />
<text x="25.10" y="418.45" font-size="9.6" font-family="DejaVu Sans, Liberation Sans, sans-serif" text-anchor="end" fill="#111" >7.25</text>
<line x1="27.00" y1="436.58" x2="29.50" y2="436.58" stroke="#646464" stroke-width="0.7" />
<text x="25.10" y="440.28" font-size="9.6" font-family="DejaVu Sans, Liberation Sans, sans-serif" text-anchor="end" fill="#111" >7.00</text>
<line x1="27.00" y1="458.41" x2="29.50" y2="458.41" stroke="#646464" stroke-width="0.7" />
<text x="25.10" y="462.11" font-size="9.6" font-family="DejaVu Sans, Liberation Sans, sans-serif" text-anchor="end" fill="#111" >6.75</text>
<line x1="76.60" y1="471.50" x2="76.60" y2="474.00" stroke="#646464" stroke-width="0.7" />
<text x="76.60" y="482.80" font-size="9.7" font-family="DejaVu Sans, Liberation Sans, sans-serif" text-anchor="middle" fill="#111" >BIC</text>
<line x1="171.80" y1="471.50" x2="171.80" y2="474.00" stroke="#646464" stroke-width="0.7" />
<text x="171.80" y="482.80" font-size="9.7" font-family="DejaVu Sans, Liberation Sans, sans-serif" text-anchor="middle" fill="#111" >Control</text>
<line x1="76.60" y1="353.30" x2="76.60" y2="356.30" stroke="#555" stroke-width="0.8" />
<line x1="76.60" y1="366.70" x2="76.60" y2="371.50" stroke="#555" stroke-width="0.8" />
<line x1="57.45" y1="353.30" x2="95.75" y2="353.30" stroke="#555" stroke-width="0.8" />
<line x1="57.45" y1="371.50" x2="95.75" y2="371.50" stroke="#555" stroke-width="0.8" />
<rect x="38.20" y="356.30" width="76.60" height="10.40" fill="#bc3d4b" stroke="#5e5e5e" stroke-width="0.7" />
<line x1="38.20" y1="359.60" x2="114.80" y2="359.60" stroke="#555" stroke-width="0.8" />
<line x1="171.80" y1="397.00" x2="171.80" y2="399.30" stroke="#555" stroke-width="0.8" />
<line x1="171.80" y1="424.80" x2="171.80" y2="441.10" stroke="#555" stroke-width="0.8" />
<line x1="152.53" y1="397.00" x2="191.08" y2="397.00" stroke="#555" stroke-width="0.8" />
<line x1="152.53" y1="441.10" x2="191.08" y2="441.10" stroke="#555" stroke-width="0.8" />
<rect x="133.20" y="399.30" width="77.10" height="25.50" fill="#4991b1" stroke="#5e5e5e" stroke-width="0.7" />
<line x1="133.20" y1="405.20" x2="210.30" y2="405.20" stroke="#555" stroke-width="0.8" />
<circle cx="79.50" cy="353.00" r="1.55" fill="#000"/>
<circle cx="81.10" cy="356.30" r="1.55" fill="#000"/>
<circle cx="75.30" cy="358.40" r="1.55" fill="#000"/>
<circle cx="73.20" cy="359.60" r="1.55" fill="#000"/>
<circle cx="81.40" cy="365.90" r="1.55" fill="#000"/>
<circle cx="82.40" cy="366.70" r="1.55" fill="#000"/>
<circle cx="71.50" cy="367.50" r="1.55" fill="#000"/>
<circle cx="82.30" cy="371.70" r="1.55" fill="#000"/>
<circle cx="78.00" cy="360.50" r="1.55" fill="#000"/>
<circle cx="163.20" cy="397.20" r="1.55" fill="#000"/>
<circle cx="163.20" cy="399.80" r="1.55" fill="#000"/>
<circle cx="176.20" cy="396.80" r="1.55" fill="#000"/>
<circle cx="180.80" cy="402.90" r="1.55" fill="#000"/>
<circle cx="173.10" cy="405.10" r="1.55" fill="#000"/>
<circle cx="180.70" cy="409.90" r="1.55" fill="#000"/>
<circle cx="165.50" cy="424.80" r="1.55" fill="#000"/>
<circle cx="179.20" cy="433.90" r="1.55" fill="#000"/>
<circle cx="167.10" cy="441.20" r="1.55" fill="#000"/>
<line x1="76.60" y1="356.60" x2="76.60" y2="366.00" stroke="#e2382a" stroke-width="1.3" />
<line x1="74.00" y1="356.60" x2="79.20" y2="356.60" stroke="#e2382a" stroke-width="0.9" />
<line x1="74.00" y1="366.00" x2="79.20" y2="366.00" stroke="#e2382a" stroke-width="0.9" />
<circle cx="76.60" cy="361.30" r="2.7" fill="#e2382a"/>
<line x1="171.80" y1="399.50" x2="171.80" y2="425.40" stroke="#e2382a" stroke-width="1.3" />
<line x1="169.20" y1="399.50" x2="174.40" y2="399.50" stroke="#e2382a" stroke-width="0.9" />
<line x1="169.20" y1="425.40" x2="174.40" y2="425.40" stroke="#e2382a" stroke-width="0.9" />
<circle cx="171.80" cy="412.50" r="2.7" fill="#e2382a"/>
<line x1="75.90" y1="351.40" x2="171.80" y2="351.40" stroke="#111" stroke-width="1.2" />
<text x="124.00" y="334.50" font-size="10.1" font-family="DejaVu Sans, Liberation Sans, sans-serif" text-anchor="middle" fill="#111" >p = 0.000412</text>
<text x="124.00" y="345.50" font-size="10.1" font-family="DejaVu Sans, Liberation Sans, sans-serif" text-anchor="middle" fill="#111" >d = 1.39</text>
<rect x="253.00" y="285.20" width="192.50" height="187.30" fill="none" stroke="#646464" stroke-width="1.0" />
<text x="349.25" y="281.80" font-size="12.8" font-family="DejaVu Sans, Liberation Sans, sans-serif" text-anchor="middle" fill="#000" >Chao1 index</text>
<line x1="250.50" y1="295.20" x2="253.00" y2="295.20" stroke="#646464" stroke-width="0.7" />
<text x="248.60" y="299.70" font-size="9.6" font-family="DejaVu Sans, Liberation Sans, sans-serif" text-anchor="end" fill="#111" >750</text>
<line x1="250.50" y1="324.38" x2="253.00" y2="324.38" stroke="#646464" stroke-width="0.7" />
<text x="248.60" y="328.88" font-size="9.6" font-family="DejaVu Sans, Liberation Sans, sans-serif" text-anchor="end" fill="#111" >700</text>
<line x1="250.50" y1="353.56" x2="253.00" y2="353.56" stroke="#646464" stroke-width="0.7" />
<text x="248.60" y="358.06" font-size="9.6" font-family="DejaVu Sans, Liberation Sans, sans-serif" text-anchor="end" fill="#111" >650</text>
<line x1="250.50" y1="382.74" x2="253.00" y2="382.74" stroke="#646464" stroke-width="0.7" />
<text x="248.60" y="387.24" font-size="9.6" font-family="DejaVu Sans, Liberation Sans, sans-serif" text-anchor="end" fill="#111" >600</text>
<line x1="250.50" y1="411.92" x2="253.00" y2="411.92" stroke="#646464" stroke-width="0.7" />
<text x="248.60" y="416.42" font-size="9.6" font-family="DejaVu Sans, Liberation Sans, sans-serif" text-anchor="end" fill="#111" >550</text>
<line x1="250.50" y1="441.10" x2="253.00" y2="441.10" stroke="#646464" stroke-width="0.7" />
<text x="248.60" y="445.60" font-size="9.6" font-family="DejaVu Sans, Liberation Sans, sans-serif" text-anchor="end" fill="#111" >500</text>
<line x1="250.50" y1="470.28" x2="253.00" y2="470.28" stroke="#646464" stroke-width="0.7" />
<text x="248.60" y="474.78" font-size="9.6" font-family="DejaVu Sans, Liberation Sans, sans-serif" text-anchor="end" fill="#111" >450</text>
<line x1="300.80" y1="472.50" x2="300.80" y2="475.00" stroke="#646464" stroke-width="0.7" />
<text x="300.80" y="483.30" font-size="9.7" font-family="DejaVu Sans, Liberation Sans, sans-serif" text-anchor="middle" fill="#111" >BIC</text>
<line x1="397.70" y1="472.50" x2="397.70" y2="475.00" stroke="#646464" stroke-width="0.7" />
<text x="397.70" y="483.30" font-size="9.7" font-family="DejaVu Sans, Liberation Sans, sans-serif" text-anchor="middle" fill="#111" >Control</text>
<line x1="300.80" y1="346.10" x2="300.80" y2="374.40" stroke="#5a5a5a" stroke-width="0.8" />
<line x1="300.80" y1="396.40" x2="300.80" y2="421.20" stroke="#5a5a5a" stroke-width="0.8" />
<line x1="281.27" y1="346.10" x2="320.33" y2="346.10" stroke="#5a5a5a" stroke-width="0.8" />
<line x1="281.27" y1="421.20" x2="320.33" y2="421.20" stroke="#5a5a5a" stroke-width="0.8" />
<rect x="261.70" y="374.40" width="78.10" height="22.00" fill="#bc3d4b" stroke="#5e5e5e" stroke-width="0.7" />
<line x1="261.70" y1="383.40" x2="339.80" y2="383.40" stroke="#555" stroke-width="0.8" />
<line x1="397.70" y1="325.30" x2="397.70" y2="366.10" stroke="#5a5a5a" stroke-width="0.8" />
<line x1="397.70" y1="432.60" x2="397.70" y2="458.50" stroke="#5a5a5a" stroke-width="0.8" />
<line x1="378.22" y1="325.30" x2="417.18" y2="325.30" stroke="#5a5a5a" stroke-width="0.8" />
<line x1="378.22" y1="458.50" x2="417.18" y2="458.50" stroke="#5a5a5a" stroke-width="0.8" />
<rect x="358.70" y="366.10" width="77.90" height="66.50" fill="#4991b1" stroke="#5e5e5e" stroke-width="0.7" />
<line x1="358.70" y1="388.60" x2="436.60" y2="388.60" stroke="#555" stroke-width="0.8" />
<circle cx="293.90" cy="346.10" r="1.55" fill="#000"/>
<circle cx="302.40" cy="374.30" r="1.55" fill="#000"/>
<circle cx="303.60" cy="373.80" r="1.55" fill="#000"/>
<circle cx="305.30" cy="376.70" r="1.55" fill="#000"/>
<circle cx="306.60" cy="383.20" r="1.55" fill="#000"/>
<circle cx="309.00" cy="387.90" r="1.55" fill="#000"/>
<circle cx="304.30" cy="396.30" r="1.55" fill="#000"/>
<circle cx="305.80" cy="399.70" r="1.55" fill="#000"/>
<circle cx="307.80" cy="421.20" r="1.55" fill="#000"/>
<circle cx="390.40" cy="325.70" r="1.55" fill="#000"/>
<circle cx="403.30" cy="329.70" r="1.55" fill="#000"/>
<circle cx="400.20" cy="366.10" r="1.55" fill="#000"/>
<circle cx="406.00" cy="374.30" r="1.55" fill="#000"/>
<circle cx="400.20" cy="388.60" r="1.55" fill="#000"/>
<circle cx="400.90" cy="415.80" r="1.55" fill="#000"/>
<circle cx="404.00" cy="432.80" r="1.55" fill="#000"/>
<circle cx="396.10" cy="451.00" r="1.55" fill="#000"/>
<circle cx="393.40" cy="458.70" r="1.55" fill="#000"/>
<line x1="300.60" y1="368.30" x2="300.60" y2="400.50" stroke="#e2382a" stroke-width="1.3" />
<line x1="298.00" y1="368.30" x2="303.20" y2="368.30" stroke="#e2382a" stroke-width="0.9" />
<line x1="298.00" y1="400.50" x2="303.20" y2="400.50" stroke="#e2382a" stroke-width="0.9" />
<circle cx="300.60" cy="383.90" r="2.7" fill="#e2382a"/>
<line x1="397.80" y1="355.60" x2="397.80" y2="431.50" stroke="#e2382a" stroke-width="1.3" />
<line x1="395.20" y1="355.60" x2="400.40" y2="355.60" stroke="#e2382a" stroke-width="0.9" />
<line x1="395.20" y1="431.50" x2="400.40" y2="431.50" stroke="#e2382a" stroke-width="0.9" />
<circle cx="397.80" cy="393.40" r="2.7" fill="#e2382a"/>
<line x1="300.80" y1="322.50" x2="397.80" y2="322.50" stroke="#111" stroke-width="1.2" />
<text x="349.00" y="304.50" font-size="10.1" font-family="DejaVu Sans, Liberation Sans, sans-serif" text-anchor="middle" fill="#111" >p = 0.72</text>
<text x="349.00" y="315.50" font-size="10.1" font-family="DejaVu Sans, Liberation Sans, sans-serif" text-anchor="middle" fill="#111" >d = 0.51</text>
<rect x="492.50" y="285.50" width="192.00" height="188.00" fill="none" stroke="#646464" stroke-width="1.0" />
<text x="588.50" y="282.10" font-size="12.8" font-family="DejaVu Sans, Liberation Sans, sans-serif" text-anchor="middle" fill="#000" >Observed_features</text>
<line x1="490.00" y1="291.20" x2="492.50" y2="291.20" stroke="#646464" stroke-width="0.7" />
<text x="488.10" y="294.90" font-size="9.6" font-family="DejaVu Sans, Liberation Sans, sans-serif" text-anchor="end" fill="#111" >750</text>
<line x1="490.00" y1="321.23" x2="492.50" y2="321.23" stroke="#646464" stroke-width="0.7" />
<text x="488.10" y="324.93" font-size="9.6" font-family="DejaVu Sans, Liberation Sans, sans-serif" text-anchor="end" fill="#111" >700</text>
<line x1="490.00" y1="351.26" x2="492.50" y2="351.26" stroke="#646464" stroke-width="0.7" />
<text x="488.10" y="354.96" font-size="9.6" font-family="DejaVu Sans, Liberation Sans, sans-serif" text-anchor="end" fill="#111" >650</text>
<line x1="490.00" y1="381.29" x2="492.50" y2="381.29" stroke="#646464" stroke-width="0.7" />
<text x="488.10" y="384.99" font-size="9.6" font-family="DejaVu Sans, Liberation Sans, sans-serif" text-anchor="end" fill="#111" >600</text>
<line x1="490.00" y1="411.32" x2="492.50" y2="411.32" stroke="#646464" stroke-width="0.7" />
<text x="488.10" y="415.02" font-size="9.6" font-family="DejaVu Sans, Liberation Sans, sans-serif" text-anchor="end" fill="#111" >550</text>
<line x1="490.00" y1="441.35" x2="492.50" y2="441.35" stroke="#646464" stroke-width="0.7" />
<text x="488.10" y="445.05" font-size="9.6" font-family="DejaVu Sans, Liberation Sans, sans-serif" text-anchor="end" fill="#111" >500</text>
<line x1="490.00" y1="471.38" x2="492.50" y2="471.38" stroke="#646464" stroke-width="0.7" />
<text x="488.10" y="475.08" font-size="9.6" font-family="DejaVu Sans, Liberation Sans, sans-serif" text-anchor="end" fill="#111" >450</text>
<line x1="540.00" y1="473.50" x2="540.00" y2="476.00" stroke="#646464" stroke-width="0.7" />
<text x="540.00" y="484.60" font-size="9.7" font-family="DejaVu Sans, Liberation Sans, sans-serif" text-anchor="middle" fill="#111" >BIC</text>
<line x1="637.00" y1="473.50" x2="637.00" y2="476.00" stroke="#646464" stroke-width="0.7" />
<text x="637.00" y="484.60" font-size="9.7" font-family="DejaVu Sans, Liberation Sans, sans-serif" text-anchor="middle" fill="#111" >Control</text>
<line x1="540.00" y1="343.90" x2="540.00" y2="373.30" stroke="#9a9a9a" stroke-width="1.3" />
<line x1="540.00" y1="398.40" x2="540.00" y2="420.30" stroke="#9a9a9a" stroke-width="1.3" />
<line x1="520.55" y1="343.90" x2="559.45" y2="343.90" stroke="#9a9a9a" stroke-width="1.3" />
<line x1="520.55" y1="420.30" x2="559.45" y2="420.30" stroke="#9a9a9a" stroke-width="1.3" />
<rect x="501.10" y="373.30" width="77.80" height="25.10" fill="#bc3d4b" stroke="#5e5e5e" stroke-width="0.7" />
<line x1="501.10" y1="384.60" x2="578.90" y2="384.60" stroke="#555" stroke-width="0.8" />
<line x1="637.00" y1="327.00" x2="637.00" y2="363.80" stroke="#9a9a9a" stroke-width="1.3" />
<line x1="637.00" y1="432.90" x2="637.00" y2="459.00" stroke="#9a9a9a" stroke-width="1.3" />
<line x1="617.55" y1="327.00" x2="656.45" y2="327.00" stroke="#9a9a9a" stroke-width="1.3" />
<line x1="617.55" y1="459.00" x2="656.45" y2="459.00" stroke="#9a9a9a" stroke-width="1.3" />
<rect x="598.10" y="363.80" width="77.80" height="69.10" fill="#4991b1" stroke="#5e5e5e" stroke-width="0.7" />
<line x1="598.10" y1="387.60" x2="675.90" y2="387.60" stroke="#555" stroke-width="0.8" />
<circle cx="546.10" cy="343.90" r="1.55" fill="#000"/>
<circle cx="540.90" cy="373.50" r="1.55" fill="#000"/>
<circle cx="542.10" cy="373.50" r="1.55" fill="#000"/>
<circle cx="549.30" cy="378.20" r="1.55" fill="#000"/>
<circle cx="532.70" cy="384.70" r="1.55" fill="#000"/>
<circle cx="530.70" cy="392.10" r="1.55" fill="#000"/>
<circle cx="536.90" cy="398.30" r="1.55" fill="#000"/>
<circle cx="542.60" cy="401.20" r="1.55" fill="#000"/>
<circle cx="541.40" cy="420.30" r="1.55" fill="#000"/>
<circle cx="627.70" cy="327.00" r="1.55" fill="#000"/>
<circle cx="632.20" cy="332.10" r="1.55" fill="#000"/>
<circle cx="645.40" cy="363.80" r="1.55" fill="#000"/>
<circle cx="633.50" cy="373.30" r="1.55" fill="#000"/>
<circle cx="635.90" cy="387.60" r="1.55" fill="#000"/>
<circle cx="630.10" cy="416.20" r="1.55" fill="#000"/>
<circle cx="633.30" cy="432.90" r="1.55" fill="#000"/>
<circle cx="643.10" cy="451.60" r="1.55" fill="#000"/>
<circle cx="632.30" cy="459.00" r="1.55" fill="#000"/>
<line x1="540.00" y1="368.60" x2="540.00" y2="401.50" stroke="#e2382a" stroke-width="1.3" />
<line x1="537.40" y1="368.60" x2="542.60" y2="368.60" stroke="#e2382a" stroke-width="0.9" />
<line x1="537.40" y1="401.50" x2="542.60" y2="401.50" stroke="#e2382a" stroke-width="0.9" />
<circle cx="540.00" cy="384.90" r="2.7" fill="#e2382a"/>
<line x1="636.80" y1="355.90" x2="636.80" y2="431.50" stroke="#e2382a" stroke-width="1.3" />
<line x1="634.20" y1="355.90" x2="639.40" y2="355.90" stroke="#e2382a" stroke-width="0.9" />
<line x1="634.20" y1="431.50" x2="639.40" y2="431.50" stroke="#e2382a" stroke-width="0.9" />
<circle cx="636.80" cy="393.40" r="2.7" fill="#e2382a"/>
<line x1="540.00" y1="324.00" x2="636.80" y2="324.00" stroke="#4a4a4a" stroke-width="1.4" />
<text x="588.50" y="305.50" font-size="10.1" font-family="DejaVu Sans, Liberation Sans, sans-serif" text-anchor="middle" fill="#111" >p = 0.844</text>
<text x="588.50" y="316.50" font-size="10.1" font-family="DejaVu Sans, Liberation Sans, sans-serif" text-anchor="middle" fill="#111" >d = 0.51</text>
</svg>
</body></html>
